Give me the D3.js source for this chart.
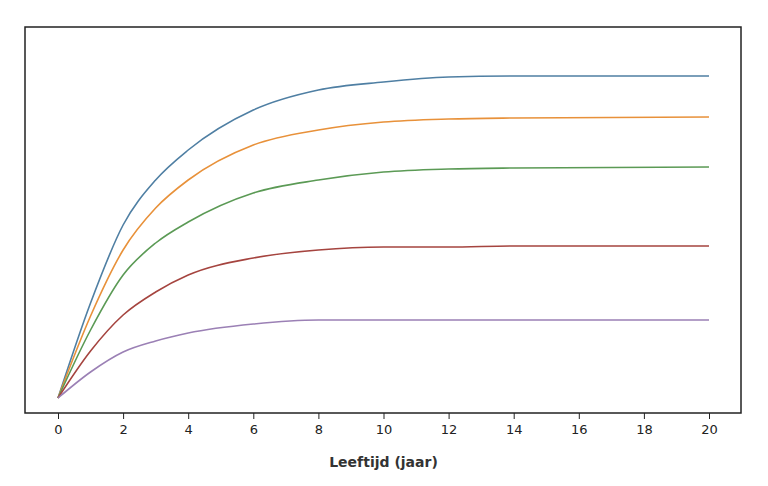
<!DOCTYPE html>
<html><head><meta charset="utf-8">
<script src="https://cdn.jsdelivr.net/npm/d3@7"></script>
<style>body{margin:0;background:#fff}text{font-family:"DejaVu Sans",Verdana,sans-serif}</style>
</head><body><svg id="chart" width="768" height="486"></svg>
<script>
// ages
const ages = [0, 1, 2, 3, 4, 6, 8, 10, 12, 14, 20];
const blue   = [0, 95, 173, 218, 248, 288, 308, 316, 321, 322, 322];
const orange = [0, 82, 148, 190, 218, 253, 268, 276, 279, 280, 281];
const green  = [0, 68, 123, 155, 176, 205, 218, 226, 229, 230, 231];
const red    = [0, 47, 83, 106, 123, 140, 148, 151, 151, 152, 152];
const purple = [0, 26, 46, 57, 65, 74, 78, 78, 78, 78, 78];
const series = [
  {values: blue, color: "#4f7fa3"},
  {values: orange, color: "#e8913a"},
  {values: green, color: "#5b9a55"},
  {values: red, color: "#a5443f"},
  {values: purple, color: "#9b80b5"}
];
const xTicks = d3.range(0, 21, 2);

const svg = d3.select("#chart");
const plotLeft = 25, plotRight = 741, plotTop = 27, plotBottom = 413;
const x = d3.scaleLinear().domain([0, 20]).range([58, 709]);
const y = d3.scaleLinear().domain([-15, 371]).range([plotBottom, plotTop]);

svg.append("rect").attr("x", plotLeft).attr("y", plotTop)
  .attr("width", plotRight - plotLeft).attr("height", plotBottom - plotTop)
  .attr("fill", "none").attr("stroke", "#222").attr("stroke-width", 1.5);

const line = d3.line().x((d, i) => x(ages[i])).y(d => y(d)).curve(d3.curveMonotoneX);
svg.selectAll("path.s").data(series).enter().append("path")
  .attr("class", "s").attr("d", d => line(d.values))
  .attr("fill", "none").attr("stroke", d => d.color).attr("stroke-width", 1.6);

const ax = svg.append("g").attr("transform", `translate(0,${plotBottom})`)
  .call(d3.axisBottom(x).tickValues(xTicks).tickSize(6).tickPadding(6));
ax.select(".domain").remove();
ax.selectAll("line").attr("stroke", "#222");
ax.selectAll("text").attr("font-size", 13).attr("fill", "#222")
  .style("font-family", "DejaVu Sans, Verdana, sans-serif");

svg.append("text").attr("x", x(10)).attr("y", 467).attr("text-anchor", "middle")
  .attr("font-size", 14).attr("font-weight", "bold").attr("fill", "#333")
  .text("Leeftijd (jaar)");
</script></body></html>
